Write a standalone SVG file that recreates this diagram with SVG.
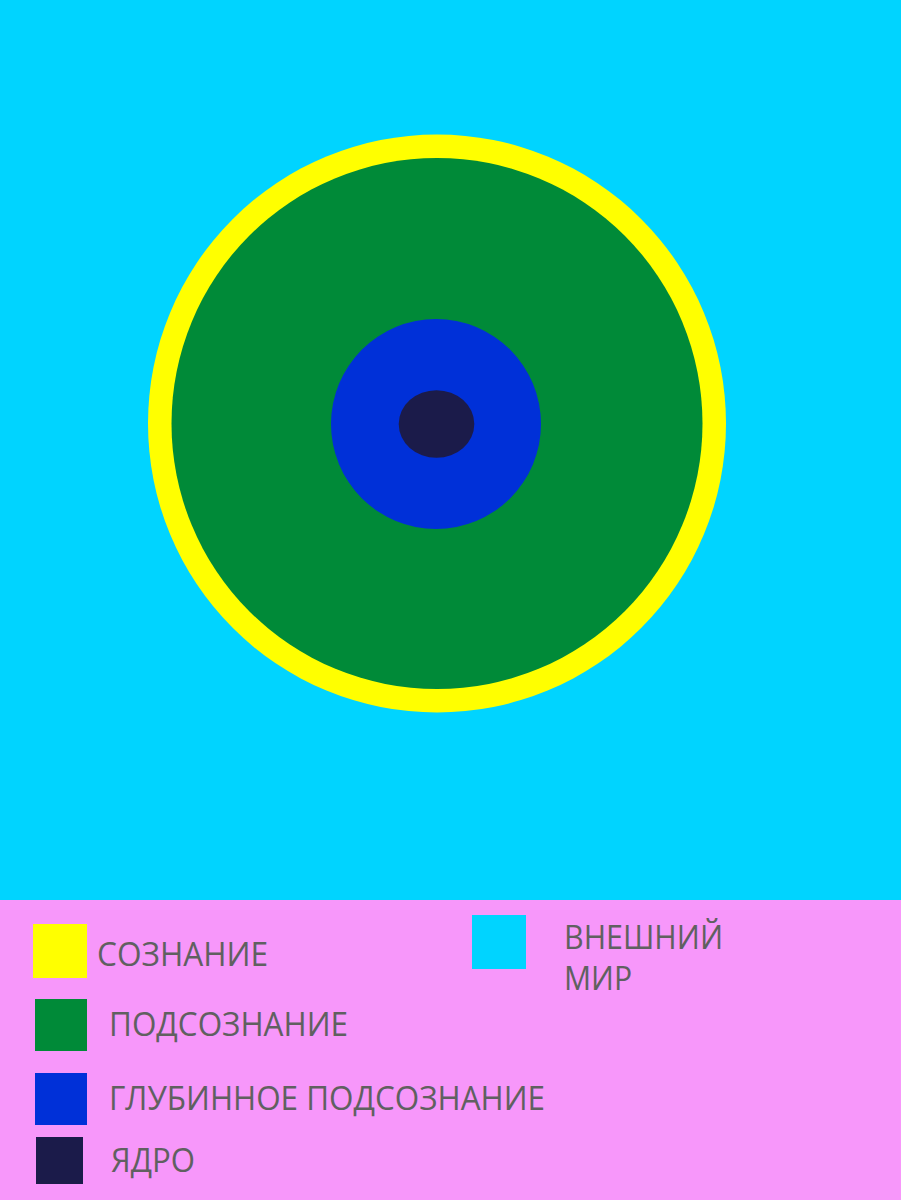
<svg xmlns="http://www.w3.org/2000/svg" width="901" height="1200" viewBox="0 0 901 1200">
<style>
.lbl{font-family:"Open Sans","Noto Sans","DejaVu Sans",sans-serif;font-size:32px;fill:#606060;}
</style>
<rect id="world" x="0" y="0" width="901" height="900" fill="#00D4FF"/>
<rect id="legend-bg" x="0" y="900" width="901" height="300" fill="#F797FA"/>
<g id="consciousness"><circle cx="437" cy="423.5" r="289" fill="#FFFF00"/></g>
<g id="subconscious"><circle cx="437" cy="423.5" r="265.5" fill="#008A38"/></g>
<g id="deep-subconscious"><circle cx="436" cy="424" r="105" fill="#0030D8"/></g>
<g id="core"><ellipse cx="436.5" cy="424" rx="37.8" ry="33.8" fill="#1B1B4A"/></g>
<g id="legend">
<rect x="33" y="924" width="54" height="54" fill="#FFFF00"/>
<text class="lbl" x="97" y="966" textLength="171" lengthAdjust="spacingAndGlyphs">СОЗНАНИЕ</text>
<rect x="35" y="999" width="52" height="52" fill="#008A38"/>
<text class="lbl" x="109" y="1036" textLength="239" lengthAdjust="spacingAndGlyphs">ПОДСОЗНАНИЕ</text>
<rect x="35" y="1073" width="52" height="52" fill="#0030D8"/>
<text class="lbl" x="109" y="1110" textLength="436" lengthAdjust="spacingAndGlyphs">ГЛУБИННОЕ ПОДСОЗНАНИЕ</text>
<rect x="36" y="1137" width="47" height="47" fill="#1B1B4A"/>
<text class="lbl" x="111" y="1172" textLength="84" lengthAdjust="spacingAndGlyphs">ЯДРО</text>
<rect x="472" y="915" width="54" height="54" fill="#00D4FF"/>
<text class="lbl"><tspan x="564" y="949" textLength="159" lengthAdjust="spacingAndGlyphs">ВНЕШНИЙ</tspan><tspan x="564" y="990" textLength="68" lengthAdjust="spacingAndGlyphs">МИР</tspan></text>
</g>
</svg>
